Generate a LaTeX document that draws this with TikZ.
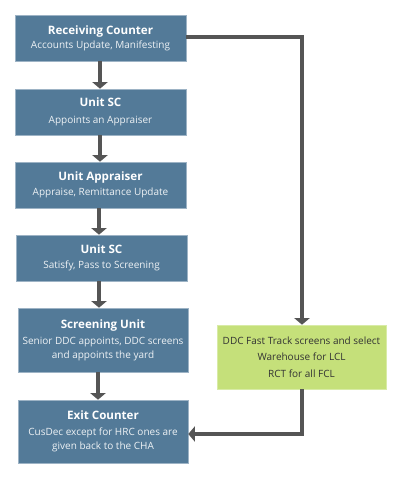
\documentclass[tikz,border=0pt]{standalone}
\usepackage{fontspec}
\setmainfont{Open Sans}
\usetikzlibrary{arrows.meta}
\definecolor{boxblue}{HTML}{537A98}
\definecolor{boxedge}{HTML}{9DB3C5}
\definecolor{boxgreen}{HTML}{C5E07A}
\definecolor{greenedge}{HTML}{D8EBA6}
\definecolor{arrgray}{HTML}{555555}
\definecolor{subwhite}{HTML}{EEF2F5}
\tikzset{
  bluebox/.style={rectangle, fill=boxblue, draw=boxedge, line width=0.6pt, text=subwhite,
    minimum width=171pt, align=center, inner sep=0pt,
    font=\fontsize{10}{14}\selectfont},
  greenbox/.style={rectangle, fill=boxgreen, draw=greenedge, line width=0.6pt, text=black!80,
    minimum width=169pt, minimum height=64pt, align=center, inner sep=0pt,
    font=\fontsize{10}{16.5}\selectfont},
  arr/.style={draw=arrgray, line width=3.6pt, -{Triangle[width=15pt,length=6.5pt]}},
}
\newcommand{\ttlx}[1]{{\fontsize{11.6}{13}\selectfont\bfseries\color{white}#1}}
\begin{document}
\begin{tikzpicture}[x=1pt,y=-1pt]
\useasboundingbox (0,0) rectangle (400,480);
\node[bluebox, minimum height=46pt] (b1) at (100.5,38) {\ttlx{Receiving Counter}\\[0pt]Accounts Update, Manifesting};
\node[bluebox, minimum height=46pt] (b2) at (100.5,112) {\ttlx{Unit SC}\\[3pt]Appoints an Appraiser};
\node[bluebox, minimum height=46pt] (b3) at (100.5,185) {\ttlx{Unit Appraiser}\\[1pt]Appraise, Remittance Update};
\node[bluebox, minimum height=46pt] (b4) at (101.5,258) {\ttlx{Unit SC}\\[1pt]Satisfy, Pass to Screening};
\node[bluebox, minimum width=170pt, minimum height=64pt] (b5) at (103,340) {\ttlx{Screening Unit}\\[2pt]Senior DDC appoints, DDC screens\\and appoints the yard};
\node[bluebox, minimum width=170pt, minimum height=63pt] (b6) at (103,431.5) {\ttlx{Exit Counter}\\[2pt]CusDec except for HRC ones are\\given back to the CHA};
\node[greenbox] (g) at (301.5,357) {DDC Fast Track screens and select\\Warehouse for LCL\\RCT for all FCL};
\coordinate (c1) at (302,37);
\coordinate (c2) at (302,434);
\draw[arr] (b1.south -| 100,0) -- (b2.north -| 100,0);
\draw[arr] (b2.south -| 100,0) -- (b3.north -| 100,0);
\draw[arr] (b3.south -| 99,0) -- (b4.north -| 99,0);
\draw[arr] (b4.south -| 99,0) -- (b5.north -| 99,0);
\draw[arr] (b5.south -| 98,0) -- (b6.north -| 98,0);
\draw[arr] (b1.east |- c1) -- (c1) -- (g.north -| c1);
\draw[arr] (g.south -| c2) -- (c2) -- (b6.east |- c2);
\end{tikzpicture}
\end{document}
